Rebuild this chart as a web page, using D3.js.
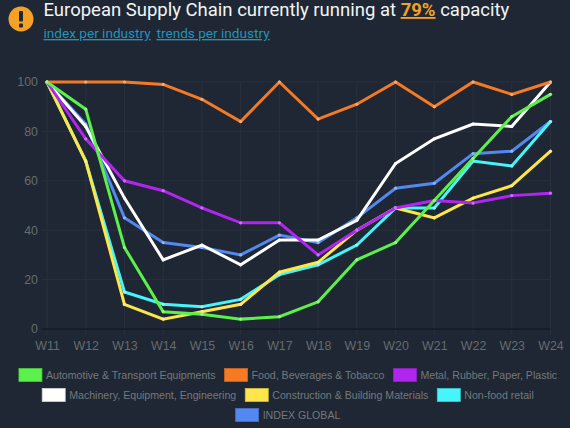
<!DOCTYPE html>
<html>
<head>
<meta charset="utf-8">
<script src="https://cdn.jsdelivr.net/npm/d3@7/dist/d3.min.js"></script>
<style>
html,body{margin:0;padding:0;background:#1e2733;overflow:hidden}
svg{display:block}
</style>
</head>
<body>
<svg id="chart" width="570" height="428"></svg>
<script>
const weeks = ["W11","W12","W13","W14","W15","W16","W17","W18","W19","W20","W21","W22","W23","W24"];
const yTicks = [0,20,40,60,80,100];

const automotive = [100,89,33,7,6,4,5,11,28,35,52,69,86,95];
const food       = [100,100,100,99,93,84,100,85,91,100,90,100,95,100];
const metal      = [100,77,60,56,49,43,43,30,40,49,52,51,54,55];
const machinery  = [100,82,53,28,34,26,36,36,44,67,77,83,82,100];
const construct  = [100,68,10,4,7,10,23,27,40,49,45,53,58,72];
const retail     = [100,68,15,10,9,12,22,26,34,49,49,68,66,84];
const indexAll   = [100,83,45,35,33,30,38,35,45,57,59,71,72,84];

const seriesNames = ["Automotive & Transport Equipments","Food, Beverages & Tobacco","Metal, Rubber, Paper, Plastic",
  "Machinery, Equipment, Engineering","Construction & Building Materials","Non-food retail","INDEX GLOBAL"];
const seriesValues = [automotive,food,metal,machinery,construct,retail,indexAll];
const seriesColors = ["#5cf04a","#f57a24","#b026f0","#ffffff","#fde54c","#45f5fa","#5288f0"];
const legendRows = [[0,1,2],[3,4,5],[6]];

const svg = d3.select("#chart");
const x = d3.scalePoint().domain(weeks).range([47,550.5]);
const y = d3.scaleLinear().domain([0,100]).range([329,82]);

// Header
svg.append("circle").attr("cx",21).attr("cy",19).attr("r",12.5).attr("fill","#f5a128");
svg.append("rect").attr("x",19).attr("y",11).attr("width",4).attr("height",10.5).attr("rx",1).attr("fill","#1e2733");
svg.append("rect").attr("x",19).attr("y",23.5).attr("width",4).attr("height",4).attr("rx",1).attr("fill","#1e2733");

const title = svg.append("text").attr("x",43.5).attr("y",16).attr("font-family","Roboto, sans-serif")
  .attr("font-size",18.5).attr("fill","#f2f4f5");
title.append("tspan").text("European Supply Chain currently running at ");
title.append("tspan").text("79%").attr("fill","#f5a128").attr("font-weight",700).attr("text-decoration","underline");
title.append("tspan").text(" capacity");

const links = svg.append("g").attr("font-family","Roboto, sans-serif").attr("font-size",13.6)
  .attr("fill","#2393ba").attr("text-decoration","underline");
links.append("text").attr("x",43.5).attr("y",38).text("index per industry");
links.append("text").attr("x",156.5).attr("y",38).text("trends per industry");

// Axes
const grid = svg.append("g");
grid.selectAll("line.v").data(weeks).join("line").attr("class","v")
  .attr("x1",d=>x(d)).attr("x2",d=>x(d)).attr("y1",82).attr("y2",334)
  .attr("stroke","#28313d").attr("stroke-width",1);
grid.selectAll("line.h").data(yTicks).join("line").attr("class","h")
  .attr("x1",42).attr("x2",550.5).attr("y1",d=>y(d)).attr("y2",d=>y(d))
  .attr("stroke",d=>d===0?"#10151c":"#28313d").attr("stroke-width",1);

const xAxis = svg.append("g").attr("transform","translate(0,337)")
  .call(d3.axisBottom(x).tickSize(0).tickPadding(4));
const yAxis = svg.append("g").attr("transform","translate(42,0)")
  .call(d3.axisLeft(y).tickValues(yTicks).tickSize(0).tickPadding(4));
[xAxis,yAxis].forEach(a=>{
  a.select(".domain").remove();
  a.selectAll("text").attr("font-family","Liberation Sans, Arial, sans-serif").attr("font-size",12.4).attr("fill","#666b70");
});

// First series ends up on top, so paint in reverse
const line = d3.line().x((d,i)=>x(weeks[i])).y(d=>y(d)).curve(d3.curveLinear);
const order = d3.range(seriesValues.length).reverse();
const marks = svg.append("g");
order.forEach(k=>{
  const g = marks.append("g");
  g.append("path").datum(seriesValues[k]).attr("d",line).attr("fill","none")
    .attr("stroke",seriesColors[k]).attr("stroke-width",3).attr("stroke-linejoin","miter");
  g.selectAll("circle").data(seriesValues[k]).join("circle")
    .attr("cx",(d,i)=>x(weeks[i])).attr("cy",d=>y(d)).attr("r",1.6)
    .attr("fill",d3.interpolateRgb(seriesColors[k],"#ffffff")(0.35));
});

// Legend: rows centred on the chart width
const legend = svg.append("g").attr("font-family","Liberation Sans, Arial, sans-serif").attr("font-size",10.6).attr("fill","#74797e");
const boxW = 23, boxH = 13, gap = 4, itemGap = 9;
legendRows.forEach((row,r)=>{
  const top = 368.5 + r*20;
  const items = row.map(k=>{
    const g = legend.append("g");
    const t = g.append("text").attr("y",top+10).text(seriesNames[k]);
    return {k,g,t,w:t.node().getComputedTextLength()};
  });
  const total = d3.sum(items,d=>boxW+gap+d.w) + itemGap*(items.length-1);
  let cx = 288 - total/2;
  items.forEach(it=>{
    it.g.append("rect").attr("x",cx).attr("y",top).attr("width",boxW).attr("height",boxH)
      .attr("fill",seriesColors[it.k]).attr("stroke",d3.color(seriesColors[it.k]).darker(0.5)).attr("stroke-width",0.8);
    it.t.attr("x",cx+boxW+gap);
    cx += boxW+gap+it.w+itemGap;
  });
});
</script>
</body>
</html>
